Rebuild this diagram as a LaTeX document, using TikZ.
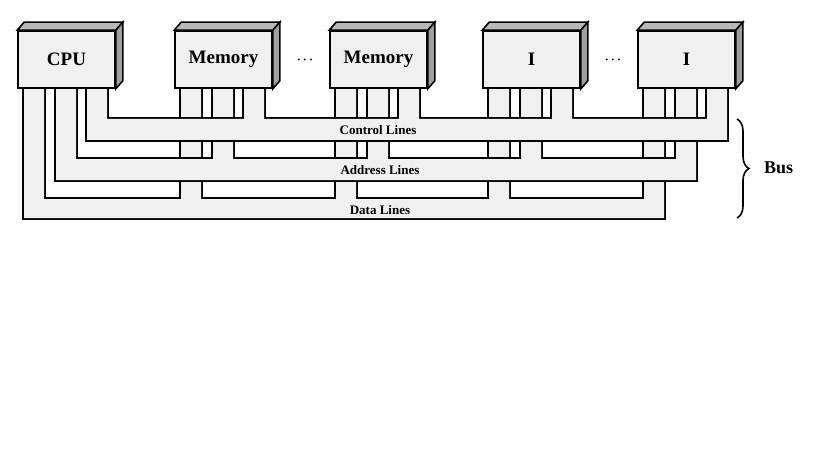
\documentclass[tikz,border=0pt]{standalone}
\usepackage{fontspec}
\setmainfont{Liberation Serif}
\usetikzlibrary{decorations.pathreplacing}
\begin{document}
\begin{tikzpicture}
	[	x=0.5pt,y=-0.5pt,
		module/.style={rectangle,draw=black,line width=0.8pt,fill=gray!12,minimum width=48.5pt,minimum height=28.5pt,inner sep=0pt,font=\bfseries\fontsize{9.5}{11}\selectfont},
		topface/.style={draw=black,line width=0.8pt,fill=gray!55},
		sideface/.style={draw=black,line width=0.8pt,fill=gray!75},
		edge/.style={draw=black,line width=1.6pt},
		band/.style={fill=gray!12},
		plain/.style={draw=none,fill=none,font=\bfseries\fontsize{6.5}{7}\selectfont,inner sep=1pt}
	]
	\useasboundingbox (0,0) rectangle (819,460);
	% bus bands: data, address, control
	\foreach \off/\ya/\yb in {6/199/218, 38/159/180, 69/119/140}{
		\path[edge] (18+\off,\ya) rectangle (658+\off,\yb)
			\foreach \L in {18,175,330,483,638}{ (\L+\off,84) rectangle (\L+\off+20,\yb) };
		\path[band] (18+\off,\ya) rectangle (658+\off,\yb)
			\foreach \L in {18,175,330,483,638}{ (\L+\off,84) rectangle (\L+\off+20,\yb) };
	}
	\node[plain] (ctrl) at (378,130){Control Lines};
	\node[plain] (addr) at (380,170){Address Lines};
	\node[plain] (data) at (380,210){Data Lines};
	% modules
	\foreach \n/\L/\t in {cpu/18/CPU, mema/175/Memory, memb/330/Memory, ioa/483/I/O, iob/638/I/O}{
		\node[module] (\n) at (\L+48.5,59.5){\t};
		\path[topface] (\n.north west) -- ++(3.5pt,4pt) -- ([shift={(3.5pt,4pt)}]\n.north east) -- (\n.north east) -- cycle;
		\path[sideface] (\n.north east) -- ++(3.5pt,4pt) -- ([shift={(3.5pt,4pt)}]\n.south east) -- (\n.south east) -- cycle;
	}
	\node[font=\bfseries\fontsize{9}{10}\selectfont] (dotsa) at (305,60){$\cdot\!\cdot\!\cdot$};
	\node[font=\bfseries\fontsize{9}{10}\selectfont] (dotsb) at (613,60){$\cdot\!\cdot\!\cdot$};
	% bus brace
	\coordinate (bt) at (737,119);
	\coordinate (bb) at (737,218);
	\draw[line width=0.8pt,decorate,decoration={brace,amplitude=6pt}] (bt) -- (bb);
	\node[font=\bfseries\fontsize{9}{10}\selectfont,anchor=west] (bus) at (757,168){Bus};
\end{tikzpicture}
\end{document}
